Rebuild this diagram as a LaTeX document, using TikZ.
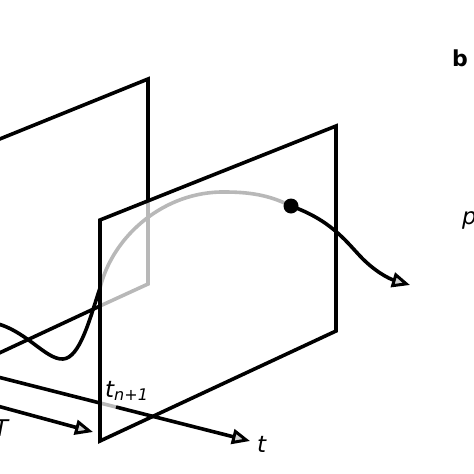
\documentclass[tikz,border=0pt]{standalone}
\usepackage{fontspec}
\setmainfont{DejaVu Sans}
\usetikzlibrary{arrows.meta}
\definecolor{hid}{gray}{0.72}
\tikzset{
  ln/.style={line width=3.6pt, black},
  hidden/.style={line width=3.6pt, hid},
  tip/.style={-{Triangle[open,length=18pt,width=15pt,line width=3pt,fill=gray!35]}},
  lbl/.style={inner sep=0pt, font=\fontsize{23}{23}\selectfont\itshape}
}
\begin{document}
\begin{tikzpicture}[x=1pt,y=-1pt]
\useasboundingbox (0,0) rectangle (474,474);
\clip (0,0) rectangle (474,474);
% back plane
\coordinate (BTR) at (148,79);
\coordinate (BBR) at (148,284);
\coordinate (BTL) at (-20,147);
\coordinate (BBL) at (-20,362);
\coordinate (BRh) at (148,201);
\coordinate (BBh) at (100,306);
\draw[ln] (BTL) -- (BTR) -- (BRh);
\draw[hidden] (BRh) -- (BBR) -- (BBh);
\draw[ln] (BBh) -- (BBL);
% curve (black part in front)
\coordinate (C0) at (-10,322);
\coordinate (Cmin) at (63,359);
\coordinate (Cx) at (100,288);
\coordinate (Cpk) at (225,192);
\coordinate (D) at (291,206);
\coordinate (Cm) at (360,256);
\coordinate (E) at (410,285);
\draw[ln] (C0) .. controls (25,328) and (45,360) .. (Cmin)
          .. controls (80,358) and (90,318) .. (Cx);
\draw[hidden] (Cx) .. controls (113,235) and (165,191) .. (Cpk)
          .. controls (255,192) and (273,197) .. (D);
% axes
\coordinate (A0) at (-10,375);
\coordinate (Ag1) at (100,403);
\coordinate (Ag2) at (116,407);
\coordinate (A1) at (250,441);
\draw[ln] (A0) -- (Ag1);
\draw[hidden] (Ag1) -- (Ag2);
\draw[ln,tip] (Ag2) -- (A1);
\coordinate (T0) at (-10,404);
\coordinate (T1) at (93,432);
\draw[ln,tip] (T0) -- (T1);
% front plane
\coordinate (FTL) at (100,220);
\coordinate (FTR) at (336,126);
\coordinate (FBR) at (336,331);
\coordinate (FBL) at (100,441);
\draw[ln] (FTL) -- (FTR) -- (FBR) -- (FBL) -- cycle;
% trajectory after the dot
\draw[ln,tip] (D) .. controls (330,220) and (345,240) .. (Cm)
          .. controls (375,272) and (390,279) .. (E);
\fill (D) circle (7.5pt);
% labels
\node[lbl, anchor=base west] (lt) at (257,452) {t};
\node[lbl, anchor=base west] (ltn) at (105,397) {t\raisebox{-3pt}{\fontsize{16}{16}\selectfont n+1}};
\node[lbl, anchor=base west] (lT) at (-6,436) {T};
\node[lbl, anchor=base west] (lp) at (462,224) {p};
\node[inner sep=0pt, font=\fontsize{22}{22}\selectfont\bfseries] (lb) at (460,58) {b};
\end{tikzpicture}
\end{document}
